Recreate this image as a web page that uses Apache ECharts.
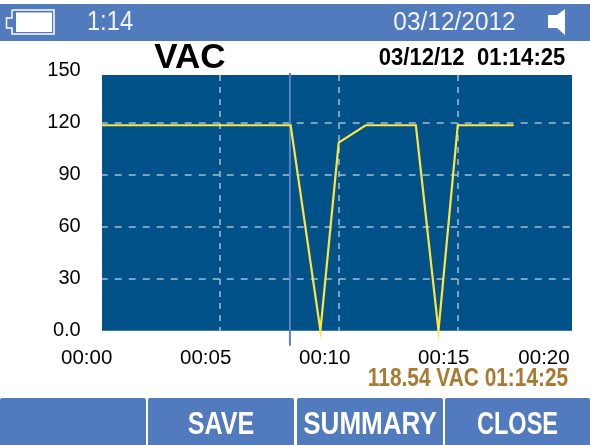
<!DOCTYPE html>
<html><head><meta charset="utf-8">
<style>html,body{margin:0;padding:0;background:#fff}#c{width:590px;height:445px}</style>
<script src="https://cdn.jsdelivr.net/npm/echarts@6/dist/echarts.min.js"></script>
</head><body><div id="c"></div>
<script>
const timeValues = [0, 7.98, 9.23, 10, 11.13, 13.24, 14.19, 15, 17.35];
const vacValues = [118.5, 118.5, 0, 108.5, 118.5, 118.5, 0, 118.5, 118.5];
const xAxisMax = 19.8;
const yAxisMax = 147.5;
const xTickValues = [0, 5, 10, 15, xAxisMax];
const xTickLabels = ['00:00', '00:05', '00:10', '00:15', '00:20'];
const yTickValues = [0, 30, 60, 90, 120, yAxisMax];
const yTickLabels = ['0.0', '30', '60', '90', '120', '150'];
const cursorTime = [7.95];
const buttonLabels = ['', 'SAVE', 'SUMMARY', 'CLOSE'];

const BLUE = '#527bbd';
const SANS = '"Liberation Sans", Arial, sans-serif';
const chart = echarts.init(document.getElementById('c'), null, {renderer: 'canvas'});

function text(x, y, t, font, fill, scaleX) {
  return {type: 'text', x, y, scaleX: scaleX || 1, z: 10,
    style: {text: t, font, fill, align: 'center', verticalAlign: 'middle'}};
}
const btnX = [[0, 146], [148, 294], [297, 443], [445, 590]];
const btnScale = [1, 0.81, 0.84, 0.76];
const graphic = [
  {type: 'rect', shape: {x: 0, y: 4, width: 590, height: 37}, style: {fill: BLUE}, z: 1},
  {type: 'rect', shape: {x: 100, y: 74, width: 2, height: 258}, style: {fill: '#fff'}, z: 10},
  // battery
  {type: 'polyline', z: 5, shape: {points: [[12, 10], [54, 10], [54, 34], [12, 34], [12, 28], [6.5, 28], [6.5, 18], [12, 18], [12, 10]]},
    style: {stroke: '#fff', fill: 'none', lineWidth: 1.5}},
  {type: 'rect', z: 5, shape: {x: 16, y: 12.5, width: 36, height: 19.5}, style: {fill: '#fff'}},
  text(110, 23, '1:14', '27px ' + SANS, '#f0f4fb', 0.88),
  text(454.5, 23, '03/12/2012', '26px ' + SANS, '#f0f4fb', 0.94),
  {type: 'polygon', z: 5, shape: {points: [[548, 15], [557, 15], [565, 9], [565, 35], [557, 28], [548, 28]]}, style: {fill: '#fff'}},
  text(190, 58, 'VAC', 'bold 35px ' + SANS, '#000'),
  text(472, 58, '03/12/12  01:14:25', 'bold 24px ' + SANS, '#000', 0.92),
  text(468, 379, '118.54 VAC 01:14:25', 'bold 25px ' + SANS, '#a87a30', 0.835)
];
btnX.forEach((b, i) => {
  graphic.push({type: 'rect', z: 1, shape: {x: b[0], y: 398, width: b[1] - b[0], height: 47, r: [2, 2, 0, 0]}, style: {fill: BLUE}});
  if (buttonLabels[i]) graphic.push(text((b[0] + b[1]) / 2, 425, buttonLabels[i], 'bold 31px ' + SANS, '#fff', btnScale[i]));
});

const labelStyle = {color: '#000', fontFamily: SANS, fontSize: 20.5};
chart.setOption({
  animation: false,
  backgroundColor: '#fff',
  graphic,
  grid: {left: 100.7, right: 18, top: 75, bottom: 114.3, show: true, backgroundColor: '#005288', borderWidth: 0},
  xAxis: {
    type: 'value', min: 0, max: xAxisMax, interval: 5,
    axisLine: {show: false}, axisTick: {show: false},
    splitLine: {show: true, showMinLine: false, showMaxLine: false, lineStyle: {color: '#a4bdd4', width: 1.5, type: [6, 6]}},
    axisLabel: {
      customValues: xTickValues, margin: 17, hideOverlap: false, showMinLabel: true, showMaxLabel: true,
      formatter: v => {
        const i = xTickValues.indexOf(v);
        return (i === xTickValues.length - 1 ? '{b|' : '{a|') + xTickLabels[i] + '}';
      },
      rich: {
        a: Object.assign({padding: [0, 28, 0, 0]}, labelStyle),
        b: Object.assign({padding: [0, 56, 0, 0]}, labelStyle)
      }
    }
  },
  yAxis: {
    type: 'value', min: 0, max: yAxisMax, interval: 30,
    axisLine: {show: false}, axisTick: {show: false},
    splitLine: {show: true, showMinLine: false, showMaxLine: false, lineStyle: {color: '#a4bdd4', width: 1.5, type: [7, 7]}},
    axisLabel: {
      customValues: yTickValues, margin: 20, hideOverlap: false, showMinLabel: true, showMaxLabel: true,
      formatter: v => {
        const i = yTickValues.indexOf(v);
        return (i === yTickValues.length - 1 ? '{b|' : '{a|') + yTickLabels[i] + '}';
      },
      rich: {
        a: Object.assign({}, labelStyle, {fontSize: 20}),
        b: Object.assign({padding: [0, 0, 10, 0]}, labelStyle, {fontSize: 20})
      }
    }
  },
  series: [
    {
      type: 'custom', clip: false, silent: true, z: 3,
      data: cursorTime.map(t => [t]),
      encode: {x: 0},
      renderItem: (p, api) => {
        const x = api.coord([api.value(0), 0])[0];
        const top = api.coord([api.value(0), yAxisMax])[1];
        const bottom = api.coord([api.value(0), 0])[1];
        return {type: 'line', shape: {x1: x, y1: top - 2, x2: x, y2: bottom + 15}, style: {stroke: '#5a82c4', lineWidth: 2}};
      }
    },
    {
      type: 'line', clip: false, symbol: 'none', silent: true, z: 4,
      data: timeValues.map((t, i) => [t, vacValues[i]]),
      lineStyle: {color: '#ffe53f', width: 2.2, join: 'miter', miterLimit: 30}
    }
  ]
});
</script></body></html>
